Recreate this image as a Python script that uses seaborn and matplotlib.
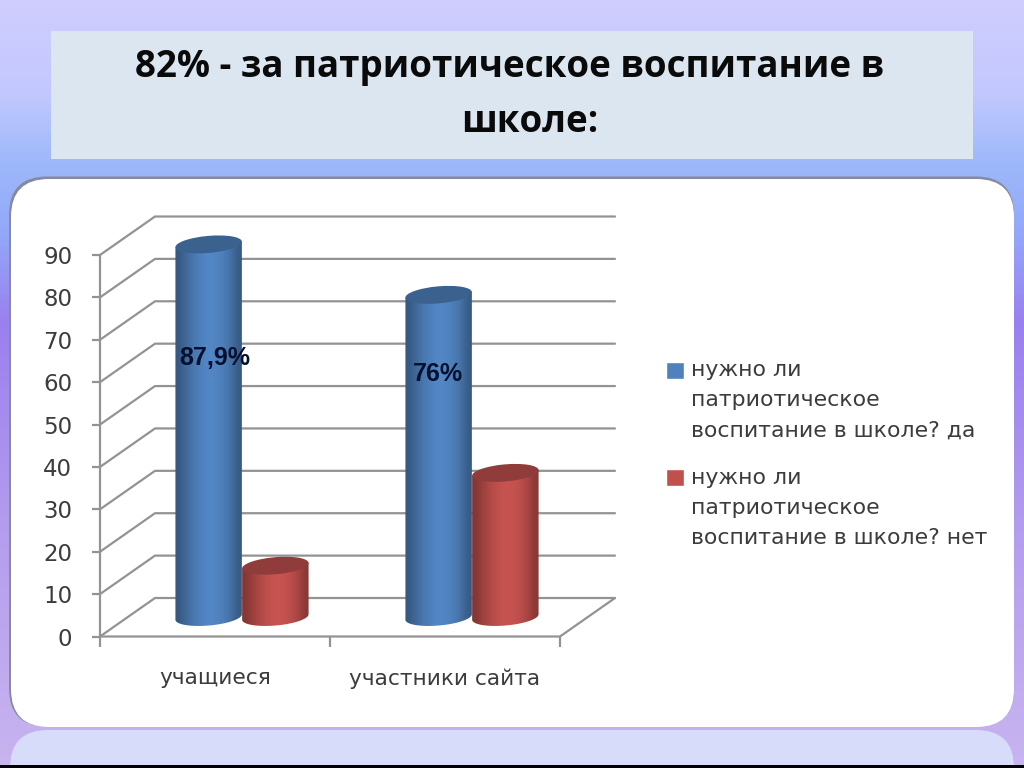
import numpy as np
import pandas as pd
import matplotlib
matplotlib.use('Agg')
import matplotlib.pyplot as plt
import seaborn as sns
from matplotlib.colors import LinearSegmentedColormap, to_rgb
from matplotlib.patches import Ellipse, FancyBboxPatch, Rectangle
from matplotlib.path import Path
from matplotlib.transforms import IdentityTransform

categorias = ['учащиеся', 'участники сайта']
serie_da = [87.9, 76]
serie_net = [12.1, 34]
nombre_da = 'нужно ли\nпатриотическое\nвоспитание в школе? да'
nombre_net = 'нужно ли\nпатриотическое\nвоспитание в школе? нет'
etiquetas = ['87,9%', '76%']
ticks_y = [0, 10, 20, 30, 40, 50, 60, 70, 80, 90]

df = pd.DataFrame({
    'categoria': categorias * 2,
    'valor': serie_da + serie_net,
    'serie': [nombre_da] * 2 + [nombre_net] * 2,
})

sns.set_theme(style='white')
plt.rcParams['font.family'] = ['DejaVu Sans']
W, H = 1024, 768
fig = plt.figure(figsize=(W / 100, H / 100), dpi=100)


def caja(x0, y_top, x1, y_bottom):
    # pixeles de la imagen (y hacia abajo) a coordenadas de figura
    return [x0 / W, 1 - y_bottom / H, (x1 - x0) / W, (y_bottom - y_top) / H]


# fondo
bg = fig.add_axes([0, 0, 1, 1])
bg.set_xlim(0, W)
bg.set_ylim(H, 0)
bg.axis('off')
cmap_bg = LinearSegmentedColormap.from_list('bg', [
    (0, '#d0cdfe'), (0.12, '#c2c8fe'), (0.21, '#9db8fb'), (0.3, '#93a8fa'),
    (0.42, '#9a80f0'), (0.7, '#b49eee'), (1, '#c8b4f0')])
bg.imshow(np.linspace(0, 1, 256).reshape(-1, 1), cmap=cmap_bg, extent=(0, W, H, 0), aspect='auto', zorder=0)
bg.add_patch(FancyBboxPatch((10, 730), W - 20, 70, boxstyle='round,pad=0,rounding_size=38', fc='#d6dcfa', ec='none', zorder=1))
bg.add_patch(Rectangle((0, 765), W, 3, fc='black', ec='none', zorder=2))
# sombra gris arriba y a la izquierda del panel
bg.add_patch(FancyBboxPatch((9, 176.5), 1005, 550, boxstyle='round,pad=0,rounding_size=38', fc='#868aa0', ec='none', zorder=3))
bg.add_patch(FancyBboxPatch((11, 179), 1003, 548, boxstyle='round,pad=0,rounding_size=38', fc='white', ec='none', zorder=3))
bg.add_patch(Rectangle((51, 31), 922, 128, fc='#dbe6f1', ec='none', zorder=3))
bg.text(510, 67, '82% - за патриотическое воспитание в', ha='center', va='center', fontsize=26.5,
        fontweight='bold', family='Open Sans', color='#0a0a0a', zorder=4)
bg.text(530, 122, 'школе:', ha='center', va='center', fontsize=26.5,
        fontweight='bold', family='Open Sans', color='#0a0a0a', zorder=4)

# ejes del plano frontal
escala = (636.5 - 255) / 90
ax = fig.add_axes(caja(100, 255, 560, 636.5))
ax.patch.set_alpha(0)
ax.set_xlim(-0.5, 1.5)
ax.set_ylim(0, 90)
sns.despine(ax=ax, top=True, right=True, bottom=True, left=True)
gris = '#939393'
dx, dy = 55 / 230, 38.5 / escala
for v in ticks_y:
    ax.plot([-0.5, -0.5 + dx, 1.5 + dx], [v, v + dy, v + dy], color=gris, lw=1.6, clip_on=False, zorder=1)
ax.plot([-0.5, 1.5, 1.5 + dx], [0, 0, dy], color=gris, lw=1.6, clip_on=False, zorder=1)
ax.plot([-0.5, -0.5], [0, 90], color=gris, lw=1.6, clip_on=False, zorder=1)
ax.set_yticks(ticks_y)
ax.set_xticks([-0.5, 0.5, 1.5])
ax.set_xticklabels([])
ax.set_xticks([0, 1], minor=True)
ax.set_xticklabels(categorias, minor=True)
ax.tick_params(axis='y', left=True, length=6, width=1.6, color=gris, labelsize=16.5, labelcolor='#3c3c3c', pad=14)
ax.tick_params(axis='x', which='major', bottom=True, length=7, width=1.6, color=gris)
ax.tick_params(axis='x', which='minor', bottom=False, length=0, labelsize=15.6, labelcolor='#3c3c3c', pad=23)

# cilindros, en el plano medio del piso
bars = fig.add_axes(caja(127, 617 - 95 * escala, 587, 617 + 5 * escala))
bars.patch.set_alpha(0)
sns.barplot(data=df, x='categoria', y='valor', hue='serie', order=categorias,
            hue_order=[nombre_da, nombre_net], palette=['#4f81bd', '#c0504d'],
            width=0.58, gap=0, dodge=True, legend=False, saturation=1, ax=bars)
bars.set_xlim(-0.5, 1.5)
bars.set_ylim(-5, 95)
bars.axis('off')

handles = [bars.containers[0][0], bars.containers[1][0]]
leg = bars.legend(handles, [nombre_da, nombre_net], loc='upper left', bbox_to_anchor=(666 / W, 1 - 360 / H),
                  bbox_transform=fig.transFigure, frameon=False, fontsize=15.8, labelcolor='#3c3c3c',
                  labelspacing=1.22, handlelength=0.8, handleheight=0.8, handletextpad=0.32, borderpad=0, borderaxespad=0)
for t in leg.get_texts():
    t.set_linespacing(1.65)
# el cuadradito va a la altura de la primera linea
for h in leg.legend_handles:
    h.set_y(h.get_y() + 22)

inclinacion = np.deg2rad(5)
b = 8.5
sombra = np.array([0.68, 0.82, 0.92, 1.0, 1.05, 1.03, 0.98, 0.88, 0.7])
for patch in bars.patches:
    if patch.get_width() == 0:
        continue
    x, w, h = patch.get_x(), patch.get_width(), patch.get_height()
    color = np.array(to_rgb(patch.get_facecolor()))
    (x0, y0), (x1, y1) = bars.transData.transform([(x, 0), (x + w, h)])
    cx, a = (x0 + x1) / 2, (x1 - x0) / 2
    t = np.linspace(np.pi, 2 * np.pi, 40)
    arco_x = cx + a * np.cos(t) * np.cos(inclinacion) - b * np.sin(t) * np.sin(inclinacion)
    arco_y = y0 + a * np.cos(t) * np.sin(inclinacion) + b * np.sin(t) * np.cos(inclinacion)
    dh = y1 - y0
    verts = list(zip(arco_x, arco_y)) + [(arco_x[-1], arco_y[-1] + dh), (arco_x[0], arco_y[0] + dh), (arco_x[0], arco_y[0])]
    codes = [Path.MOVETO] + [Path.LINETO] * (len(verts) - 2) + [Path.CLOSEPOLY]
    img = np.clip(color * sombra[:, None], 0, 1)[None, :, :]
    im = bars.imshow(img, extent=(x, x + w, -5, h + 3), aspect='auto', interpolation='bicubic', zorder=3)
    im.set_clip_path(Path(verts, codes), IdentityTransform())
    bars.add_patch(Ellipse((cx, y1), 2 * a, 2 * b, angle=5, fc=color * 0.75, ec='none',
                           transform=IdentityTransform(), zorder=3))
    patch.set_visible(False)
bars.set_xlim(-0.5, 1.5)
bars.set_ylim(-5, 95)

# rotulos de datos
bars.text(-0.12, 61, etiquetas[0], ha='center', va='center', fontsize=18, fontweight='bold',
          family='Liberation Sans', color='#03102e', zorder=5)
bars.text(0.85, 57.4, etiquetas[1], ha='center', va='center', fontsize=18, fontweight='bold',
          family='Liberation Sans', color='#03102e', zorder=5)

fig.savefig('out.png', dpi=100)
